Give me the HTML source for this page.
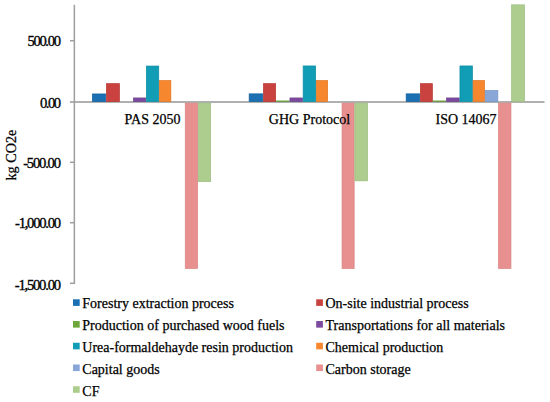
<!DOCTYPE html>
<html><head><meta charset="utf-8"><style>
html,body{margin:0;padding:0;background:#fff;}
svg{display:block;}
text{font-family:"Liberation Serif",serif;fill:#000;}
.yl{font-size:14.6px;stroke:#000;stroke-width:0.35px;}
.xl{font-size:14px;stroke:#000;stroke-width:0.25px;}
.lg{font-size:14px;stroke:#000;stroke-width:0.25px;}
.yt{font-size:14.2px;stroke:#000;stroke-width:0.25px;}
</style></head><body>
<svg width="550" height="402" viewBox="0 0 550 402">
<rect width="550" height="402" fill="#fff"/>
<rect x="70" y="101" width="474.5" height="2" fill="#B0B0B0"/>
<rect x="73.6" y="4.8" width="1.5" height="279.2" fill="#9E9E9E"/>
<rect x="70" y="39.95" width="4" height="1.5" fill="#9E9E9E"/>
<rect x="70" y="161.55" width="4" height="1.5" fill="#9E9E9E"/>
<rect x="70" y="221.95" width="4" height="1.5" fill="#9E9E9E"/>
<rect x="70" y="282.55" width="4" height="1.5" fill="#9E9E9E"/>
<rect x="92.35" y="93.95" width="13.40" height="7.60" fill="#1A70B3" stroke="#13609C" stroke-width="0.7"/>
<rect x="106.45" y="83.65" width="13.00" height="17.90" fill="#C9423F" stroke="#B53633" stroke-width="0.7"/>
<rect x="133.55" y="97.95" width="12.10" height="3.60" fill="#7B4A9E" stroke="#6A3D8C" stroke-width="0.7"/>
<rect x="146.35" y="66.05" width="12.40" height="35.50" fill="#109DB5" stroke="#0C8CA2" stroke-width="0.7"/>
<rect x="159.45" y="80.55" width="11.40" height="21.00" fill="#F6872F" stroke="#E27520" stroke-width="0.7"/>
<rect x="185.25" y="103.15" width="12.30" height="165.30" fill="#E89090" stroke="#DA8080" stroke-width="0.7"/>
<rect x="198.25" y="103.15" width="12.40" height="78.50" fill="#ACCD8E" stroke="#9CBD7E" stroke-width="0.7"/>
<rect x="249.15" y="93.85" width="13.60" height="7.70" fill="#1A70B3" stroke="#13609C" stroke-width="0.7"/>
<rect x="263.45" y="83.65" width="12.20" height="17.90" fill="#C9423F" stroke="#B53633" stroke-width="0.7"/>
<rect x="276.35" y="100.95" width="12.90" height="0.60" fill="#6FA63C" stroke="#5F9432" stroke-width="0.7"/>
<rect x="289.95" y="97.95" width="12.50" height="3.60" fill="#7B4A9E" stroke="#6A3D8C" stroke-width="0.7"/>
<rect x="303.15" y="65.95" width="12.50" height="35.60" fill="#109DB5" stroke="#0C8CA2" stroke-width="0.7"/>
<rect x="316.35" y="80.55" width="11.30" height="21.00" fill="#F6872F" stroke="#E27520" stroke-width="0.7"/>
<rect x="342.05" y="103.15" width="12.10" height="165.30" fill="#E89090" stroke="#DA8080" stroke-width="0.7"/>
<rect x="354.85" y="103.15" width="12.70" height="77.70" fill="#ACCD8E" stroke="#9CBD7E" stroke-width="0.7"/>
<rect x="406.15" y="93.85" width="13.50" height="7.70" fill="#1A70B3" stroke="#13609C" stroke-width="0.7"/>
<rect x="420.35" y="83.65" width="12.00" height="17.90" fill="#C9423F" stroke="#B53633" stroke-width="0.7"/>
<rect x="433.05" y="100.95" width="12.80" height="0.60" fill="#6FA63C" stroke="#5F9432" stroke-width="0.7"/>
<rect x="446.55" y="97.95" width="12.70" height="3.60" fill="#7B4A9E" stroke="#6A3D8C" stroke-width="0.7"/>
<rect x="459.95" y="65.95" width="12.50" height="35.60" fill="#109DB5" stroke="#0C8CA2" stroke-width="0.7"/>
<rect x="473.15" y="80.55" width="11.40" height="21.00" fill="#F6872F" stroke="#E27520" stroke-width="0.7"/>
<rect x="485.25" y="90.55" width="12.60" height="11.00" fill="#88A7D8" stroke="#7593C6" stroke-width="0.7"/>
<rect x="498.55" y="103.15" width="12.40" height="165.30" fill="#E89090" stroke="#DA8080" stroke-width="0.7"/>
<rect x="511.65" y="4.85" width="12.90" height="96.70" fill="#ACCD8E" stroke="#9CBD7E" stroke-width="0.7"/>
<text x="61.0" y="46.40" class="yl" text-anchor="end" textLength="33.6" lengthAdjust="spacing">500.00</text>
<text x="61.0" y="107.70" class="yl" text-anchor="end" textLength="21.0" lengthAdjust="spacing">0.00</text>
<text x="61.0" y="168.30" class="yl" text-anchor="end" textLength="37.8" lengthAdjust="spacing">-500.00</text>
<text x="61.0" y="228.40" class="yl" text-anchor="end" textLength="46.0" lengthAdjust="spacing">-1,000.00</text>
<text x="61.0" y="289.90" class="yl" text-anchor="end" textLength="46.2" lengthAdjust="spacing">-1,500.00</text>
<text x="152.5" y="123.6" class="xl" text-anchor="middle">PAS 2050</text>
<text x="309.5" y="123.6" class="xl" text-anchor="middle">GHG Protocol</text>
<text x="466.0" y="123.6" class="xl" text-anchor="middle">ISO 14067</text>
<text transform="translate(16.0,155.1) rotate(-90)" class="yt" text-anchor="middle">kg CO2e</text>
<rect x="73.0" y="299.30" width="6.7" height="6.6" fill="#1A70B3"/>
<text x="82.30" y="308.30" class="lg">Forestry extraction process</text>
<rect x="316.2" y="299.30" width="6.7" height="6.6" fill="#C9423F"/>
<text x="325.50" y="308.30" class="lg">On-site industrial process</text>
<rect x="73.0" y="321.03" width="6.7" height="6.6" fill="#6FA63C"/>
<text x="82.30" y="330.25" class="lg">Production of purchased wood fuels</text>
<rect x="316.2" y="321.03" width="6.7" height="6.6" fill="#7B4A9E"/>
<text x="325.50" y="330.25" class="lg">Transportations for all materials</text>
<rect x="73.0" y="342.76" width="6.7" height="6.6" fill="#109DB5"/>
<text x="82.30" y="352.20" class="lg">Urea-formaldehayde resin production</text>
<rect x="316.2" y="342.76" width="6.7" height="6.6" fill="#F6872F"/>
<text x="325.50" y="352.20" class="lg">Chemical production</text>
<rect x="73.0" y="364.49" width="6.7" height="6.6" fill="#88A7D8"/>
<text x="82.30" y="374.15" class="lg">Capital goods</text>
<rect x="316.2" y="364.49" width="6.7" height="6.6" fill="#E89090"/>
<text x="325.50" y="374.15" class="lg">Carbon storage</text>
<rect x="73.0" y="386.22" width="6.7" height="6.6" fill="#ACCD8E"/>
<text x="82.30" y="396.10" class="lg">CF</text>
</svg>
</body></html>
